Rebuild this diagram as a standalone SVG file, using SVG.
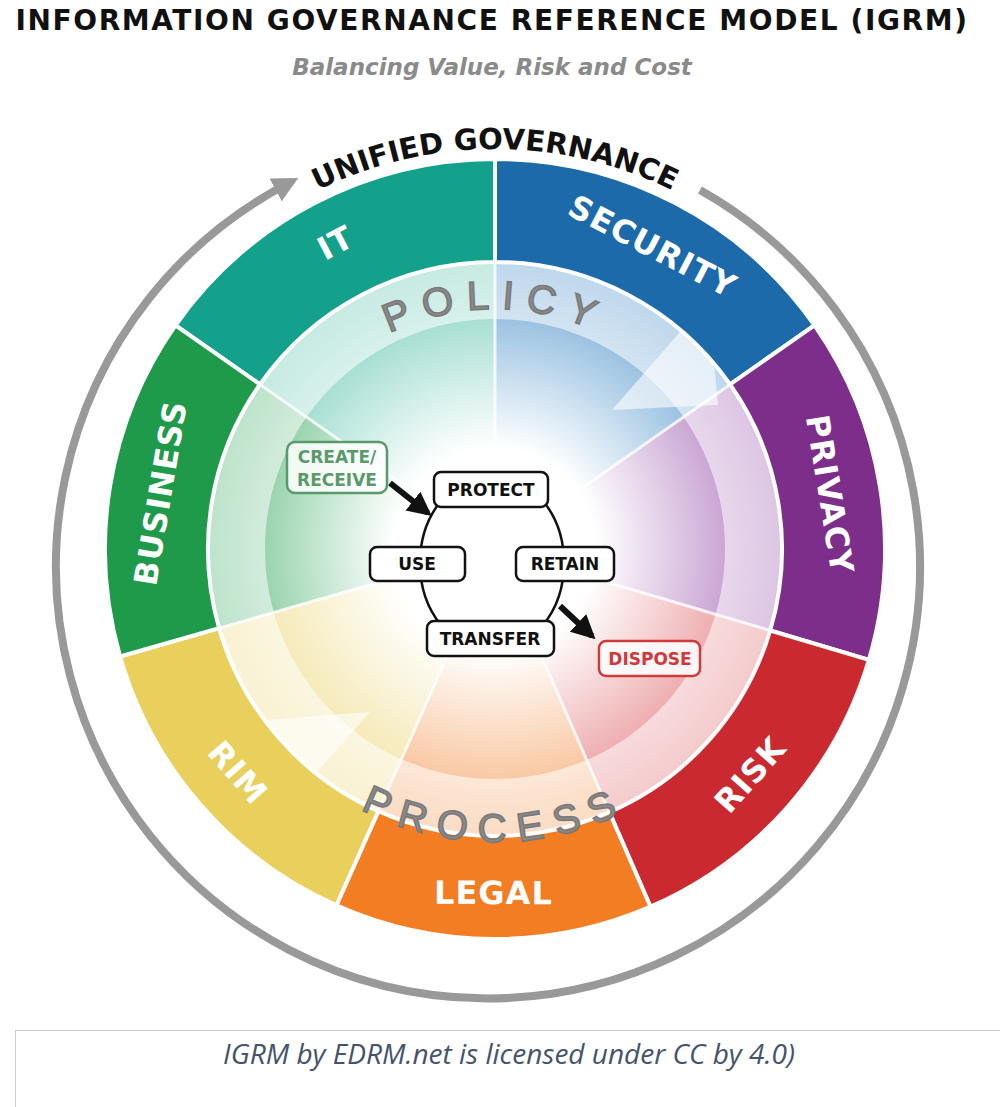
<svg xmlns="http://www.w3.org/2000/svg" xmlns:xlink="http://www.w3.org/1999/xlink" width="1000" height="1107" viewBox="0 0 1000 1107">
<style>
.seg{stroke:#fff;stroke-width:4}
.lbl{font-family:"DejaVu Sans",sans-serif;font-weight:bold;font-size:32px;fill:#fff;text-anchor:middle;dominant-baseline:central;letter-spacing:1px}
.box{fill:#fff;stroke:#111;stroke-width:2.5}
.bt{font-family:"DejaVu Sans",sans-serif;font-weight:bold;font-size:17px;text-anchor:middle;dominant-baseline:central;fill:#111}
.band{font-family:"Liberation Sans",sans-serif;font-size:40px;fill:#8a8a8a;stroke:#7a7a7a;stroke-width:1.6;letter-spacing:12px}
</style>
<defs>
<radialGradient id="gIT" cx="495" cy="549" r="290" gradientUnits="userSpaceOnUse"><stop offset="0.35" stop-color="#fff"/><stop offset="1" stop-color="#7fd0c0"/></radialGradient>
<radialGradient id="gSE" cx="495" cy="549" r="290" gradientUnits="userSpaceOnUse"><stop offset="0.35" stop-color="#fff"/><stop offset="1" stop-color="#6ea6d4"/></radialGradient>
<radialGradient id="gPR" cx="495" cy="549" r="290" gradientUnits="userSpaceOnUse"><stop offset="0.35" stop-color="#fff"/><stop offset="1" stop-color="#b27ec0"/></radialGradient>
<radialGradient id="gRI" cx="495" cy="549" r="290" gradientUnits="userSpaceOnUse"><stop offset="0.35" stop-color="#fff"/><stop offset="1" stop-color="#e68a8e"/></radialGradient>
<radialGradient id="gLE" cx="495" cy="549" r="290" gradientUnits="userSpaceOnUse"><stop offset="0.35" stop-color="#fff"/><stop offset="1" stop-color="#f6b07a"/></radialGradient>
<radialGradient id="gRM" cx="495" cy="549" r="290" gradientUnits="userSpaceOnUse"><stop offset="0.35" stop-color="#fff"/><stop offset="1" stop-color="#f1e19a"/></radialGradient>
<radialGradient id="gBU" cx="495" cy="549" r="290" gradientUnits="userSpaceOnUse"><stop offset="0.35" stop-color="#fff"/><stop offset="1" stop-color="#6cc08a"/></radialGradient>
<marker id="ah" viewBox="0 0 10 10" refX="8" refY="5" markerWidth="4" markerHeight="4" orient="auto"><path d="M0,0 L10,5 L0,10 z" fill="#111"/></marker>
<marker id="gh" viewBox="0 0 10 10" refX="5" refY="5" markerWidth="3.2" markerHeight="3.2" orient="auto"><path d="M0,0 L10,5 L0,10 z" fill="#999"/></marker>
<path id="ugPath" d="M95,549 A400,400 0 0 1 895,549"/>
<path id="polPath" d="M255,549 A240,240 0 0 1 735,549"/>
<path id="proPath" d="M202,549 A293,293 0 0 0 788,549"/>
</defs>
<rect width="1000" height="1107" fill="#fff"/>
<text x="492" y="30" font-family="DejaVu Sans, sans-serif" font-weight="bold" font-size="28" letter-spacing="1.6" text-anchor="middle" fill="#111">INFORMATION GOVERNANCE REFERENCE MODEL (IGRM)</text>
<text x="492" y="75" font-family="DejaVu Sans, sans-serif" font-weight="bold" font-style="italic" font-size="23" text-anchor="middle" fill="#8a8a8a">Balancing Value, Risk and Cost</text>

<g id="gray-arc">
<path d="M700,190 A432,432 0 1 1 287,184" fill="none" stroke="#999" stroke-width="8" marker-end="url(#gh)"/>
</g>
<text font-family="DejaVu Sans, sans-serif" font-weight="bold" font-size="29" fill="#111"><textPath xlink:href="#ugPath" href="#ugPath" startOffset="50%" text-anchor="middle">UNIFIED GOVERNANCE</textPath></text>

<g id="inner">
<path d="M495,549 L495,262 A287,287 0 0 1 730.1,384.4 Z" fill="url(#gSE)"/>
<path d="M495,549 L730.1,384.4 A287,287 0 0 1 770.2,630.5 Z" fill="url(#gPR)"/>
<path d="M495,549 L770.2,630.5 A287,287 0 0 1 609.4,812.2 Z" fill="url(#gRI)"/>
<path d="M495,549 L609.4,812.2 A287,287 0 0 1 378.3,811.2 Z" fill="url(#gLE)"/>
<path d="M495,549 L378.3,811.2 A287,287 0 0 1 219.1,628.1 Z" fill="url(#gRM)"/>
<path d="M495,549 L219.1,628.1 A287,287 0 0 1 259.9,384.4 Z" fill="url(#gBU)"/>
<path d="M495,549 L259.9,384.4 A287,287 0 0 1 495,262 Z" fill="url(#gIT)"/>
<g stroke="#fff" stroke-width="3" opacity="0.8">
<line x1="495" y1="549" x2="495" y2="262"/><line x1="495" y1="549" x2="730.1" y2="384.4"/><line x1="495" y1="549" x2="770.2" y2="630.5"/><line x1="495" y1="549" x2="609.4" y2="812.2"/><line x1="495" y1="549" x2="378.3" y2="811.2"/><line x1="495" y1="549" x2="219.1" y2="628.1"/><line x1="495" y1="549" x2="259.9" y2="384.4"/>
</g>
<circle cx="495" cy="549" r="258" fill="none" stroke="#fff" stroke-opacity="0.55" stroke-width="56"/>
<polygon points="708,300 718,405 612,410" fill="#fff" fill-opacity="0.6"/>
<polygon points="270,825 265,720 370,712" fill="#fff" fill-opacity="0.6"/>
</g>

<g id="it"><path class="seg" d="M175.5,325.3 A390,390 0 0 1 495,159 L495,262 A287,287 0 0 0 259.9,384.4 Z" fill="#14a18b"/><text class="lbl" x="495" y="204" transform="rotate(-27.5 495 549)">IT</text></g>
<g id="security"><path class="seg" d="M495,159 A390,390 0 0 1 814.5,325.3 L730.1,384.4 A287,287 0 0 0 495,262 Z" fill="#1c6aa9"/><text class="lbl" x="495" y="208" transform="rotate(27.5 495 549)">SECURITY</text></g>
<g id="privacy"><path class="seg" d="M814.5,325.3 A390,390 0 0 1 868.9,659.8 L770.2,630.5 A287,287 0 0 0 730.1,384.4 Z" fill="#7d2e8b"/><text class="lbl" x="495" y="210" transform="rotate(80.75 495 549)">PRIVACY</text></g>
<g id="risk"><path class="seg" d="M868.9,659.8 A390,390 0 0 1 650.5,906.7 L609.4,812.2 A287,287 0 0 0 770.2,630.5 Z" fill="#c9292f"/><text class="lbl" x="495" y="890" transform="rotate(-48.5 495 549)">RISK</text></g>
<g id="legal"><path class="seg" d="M650.5,906.7 A390,390 0 0 1 336.4,905.3 L378.3,811.2 A287,287 0 0 0 609.4,812.2 Z" fill="#f27d22"/><text class="lbl" x="495" y="893" transform="rotate(0.25 495 549)">LEGAL</text></g>
<g id="rim"><path class="seg" d="M336.4,905.3 A390,390 0 0 1 120.1,656.5 L219.1,628.1 A287,287 0 0 0 378.3,811.2 Z" fill="#e9cf5c"/><text class="lbl" x="495" y="890" transform="rotate(49 495 549)">RIM</text></g>
<g id="business"><path class="seg" d="M120.1,656.5 A390,390 0 0 1 175.5,325.3 L259.9,384.4 A287,287 0 0 0 219.1,628.1 Z" fill="#1f9a4b"/><text class="lbl" x="495" y="210" transform="rotate(-80.5 495 549)">BUSINESS</text></g>

<g id="band-labels">
<text class="band"><textPath xlink:href="#polPath" href="#polPath" startOffset="50%" text-anchor="middle">POLICY</textPath></text>
<text class="band"><textPath xlink:href="#proPath" href="#proPath" startOffset="50%" text-anchor="middle">PROCESS</textPath></text>
</g>

<g id="cycle"><ellipse cx="492" cy="563" rx="72" ry="88" fill="#fff" stroke="#111" stroke-width="2.5"/></g>
<g id="connectors">
<line x1="390" y1="483" x2="428" y2="513" stroke="#111" stroke-width="6" marker-end="url(#ah)"/>
<line x1="560" y1="606" x2="592" y2="636" stroke="#111" stroke-width="6" marker-end="url(#ah)"/>
</g>
<g id="create"><rect x="287" y="442" width="100" height="51" rx="8" fill="#fff" fill-opacity="0.85" stroke="#5a9a6a" stroke-width="2.5"/><text class="bt" x="337" y="457" style="fill:#5a9a6a">CREATE/</text><text class="bt" x="337" y="480" style="fill:#5a9a6a">RECEIVE</text></g>
<g id="protect"><rect class="box" x="434" y="472" width="114" height="35" rx="7"/><text class="bt" x="491" y="490">PROTECT</text></g>
<g id="use"><rect class="box" x="370" y="547" width="95" height="34" rx="7"/><text class="bt" x="417" y="564">USE</text></g>
<g id="retain"><rect class="box" x="516" y="547" width="98" height="34" rx="7"/><text class="bt" x="565" y="564">RETAIN</text></g>
<g id="transfer"><rect class="box" x="427" y="621" width="127" height="35" rx="7"/><text class="bt" x="490" y="639">TRANSFER</text></g>
<g id="dispose"><rect x="599" y="641" width="101" height="35" rx="7" fill="#fff" fill-opacity="0.85" stroke="#d03a3a" stroke-width="2.5"/><text class="bt" x="650" y="659" style="fill:#d03a3a">DISPOSE</text></g>

<g id="footer">
<rect x="15.5" y="1030.5" width="990" height="90" fill="#fff" stroke="#ccc" stroke-width="1"/>
<text x="509" y="1064" font-family="Open Sans, sans-serif" font-style="italic" font-size="28" text-anchor="middle" fill="#44546a">IGRM by EDRM.net is licensed under CC by 4.0)</text>
</g>
</svg>
